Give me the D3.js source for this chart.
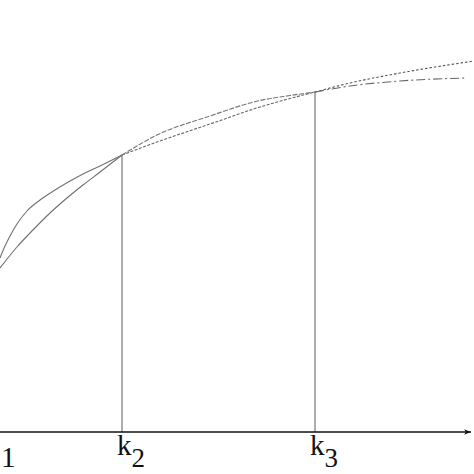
<!DOCTYPE html>
<html lang="en">
  <head>
    <title>Knots</title>
    <meta charset="UTF-8">
    <script src="https://d3js.org/d3.v7.min.js"></script>
    <style>
      * { margin: 0; padding: 0; }
      body { background: white; }
      svg { display: block; background: white; }
      text { font-family: 'Liberation Serif', 'DejaVu Serif', serif; fill: #111; }
    </style>
  </head>
  <body>
    <script>
      // knot positions and their labels
      const knots = [1, 2, 3.582]
      const knotNames = ["1", "k", "k"]
      const knotSubs = ["", "2", "3"]
      const knotValues = [null, 2.77, 3.40]

      // upper curve, pieces between knots
      const upperLeft = [[1, 1.74], [1.041, 1.86], [1.082, 1.96], [1.139, 2.08], [1.221, 2.21],
                         [1.328, 2.32], [1.451, 2.42], [1.574, 2.51], [1.697, 2.59], [1.82, 2.66],
                         [2, 2.77]]
      const upperMid = [[2, 2.77], [2.287, 2.97], [2.721, 3.16], [3.131, 3.315], [3.377, 3.365],
                        [3.582, 3.40]]
      const upperRight = [[3.582, 3.40], [3.869, 3.49], [4.279, 3.59], [4.885, 3.71]]

      // lower curve, pieces between knots
      const lowerLeft = [[1, 1.64], [1.139, 1.85], [1.27, 2.02], [1.41, 2.19], [1.549, 2.34],
                         [1.68, 2.47], [1.82, 2.60], [2, 2.77]]
      const lowerMid = [[2, 2.77], [2.287, 2.90], [2.721, 3.08], [3.131, 3.25], [3.582, 3.40]]
      const lowerRight = [[3.582, 3.40], [3.869, 3.46], [4.279, 3.51], [4.811, 3.54]]

      const width = 474
      const height = 474
      const axisY = 432

      const x = d3.scaleLinear().domain([1, 1 + 474 / 122]).range([0, width])
      const y = d3.scaleLinear().domain([0, 4.32]).range([axisY, 0])

      const line = d3.line()
                     .x((d) => x(d[0]))
                     .y((d) => y(d[1]))
                     .curve(d3.curveMonotoneX)

      const svg = d3.select('body')
                    .append('svg')
                    .attr('width', width)
                    .attr('height', height)

      svg.append('defs')
         .append('marker')
         .attr('id', 'arrow')
         .attr('viewBox', '0 0 10 10')
         .attr('refX', 10)
         .attr('refY', 5)
         .attr('markerWidth', 10)
         .attr('markerHeight', 7)
         .attr('markerUnits', 'userSpaceOnUse')
         .attr('orient', 'auto')
         .append('path')
         .attr('d', 'M0,1 L10,5 L0,9 L3,5 Z')
         .attr('fill', '#111')

      // vertical lines at the knots
      svg.selectAll('line.knot')
         .data(knots.slice(1))
         .enter()
         .append('line')
         .attr('class', 'knot')
         .attr('x1', (d) => x(d))
         .attr('x2', (d) => x(d))
         .attr('y1', y(0))
         .attr('y2', (d, i) => y(knotValues[i + 1]))
         .attr('stroke', '#808080')
         .attr('stroke-width', 1.3)

      const pieces = [
        { data: upperLeft, dash: null, color: '#707070' },
        { data: lowerLeft, dash: null, color: '#707070' },
        { data: upperMid, dash: '5,1.5', color: '#777' },
        { data: lowerMid, dash: '3,1.5', color: '#666' },
        { data: upperRight, dash: '2.5,2', color: '#555' },
        { data: lowerRight, dash: '9,3,2,3', color: '#666' }
      ]

      svg.selectAll('path.curve')
         .data(pieces)
         .enter()
         .append('path')
         .attr('class', 'curve')
         .attr('d', (d) => line(d.data))
         .attr('fill', 'none')
         .attr('stroke', (d) => d.color)
         .attr('stroke-width', 1.1)
         .attr('stroke-dasharray', (d) => d.dash)

      // horizontal axis with arrow
      svg.append('line')
         .attr('x1', 0)
         .attr('x2', 471)
         .attr('y1', y(0))
         .attr('y2', y(0))
         .attr('stroke', '#111')
         .attr('stroke-width', 1.5)
         .attr('marker-end', 'url(#arrow)')

      const labels = svg.selectAll('text.knot')
                        .data(knots)
                        .enter()
                        .append('text')
                        .attr('class', 'knot')
                        .attr('x', (d, i) => i === 0 ? x(d) + 1 : x(d) - 5)
                        .attr('y', (d, i) => i === 0 ? 467 : 455)
                        .attr('font-size', 29)

      labels.append('tspan')
            .text((d, i) => knotNames[i])

      labels.append('tspan')
            .attr('dy', 12)
            .attr('font-size', 27)
            .text((d, i) => knotSubs[i])
    </script>
  </body>
</html>
